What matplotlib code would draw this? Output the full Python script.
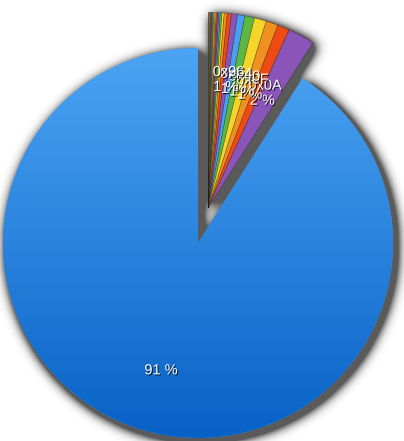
import numpy as np
import matplotlib
matplotlib.use("Agg")
import matplotlib.pyplot as plt
from matplotlib import patheffects as pe

# ---- data (clockwise from 12 o'clock) ----
small_values = [0.03, 0.04, 0.05, 0.05, 0.06, 0.07, 0.08, 0.08, 0.09, 0.10,
                0.10, 0.11, 0.12, 0.14, 0.18, 0.25, 0.35, 0.50, 0.60, 0.80,
                1.00, 1.00, 1.00, 2.20]
big_value = 91.0
small_names = [""] * 19 + ["0x96", "0xF4", "0x40", "0x0F", "0x0A"]
big_name = ""

values = small_values + [big_value]
names = small_names + [big_name]

palette = ["#4a9ff0", "#5cb840", "#f5d52a", "#f09020", "#f04a14", "#8a55b8"]
colors = [palette[i % len(palette)] for i in range(len(values))]

W, H = 404, 441
CX, CY, R = 198, 198, 195

plt.rcParams['font.family'] = ['Liberation Sans', 'DejaVu Sans']

fig = plt.figure(figsize=(W / 100, H / 100), dpi=100)
ax = fig.add_axes([0, 0, 1, 1])

wedges, _ = ax.pie(values, colors=colors, startangle=90, counterclock=False,
                   center=(CX, CY), radius=R,
                   wedgeprops=dict(edgecolor=(0, 0, 0, 0.3), linewidth=0.45))
big = wedges[-1]
big.set_linewidth(0)
small = wedges[:-1]

# explode the group of small slices together
t_lo = min(w.theta1 for w in small)
t_hi = max(w.theta2 for w in small)
mid = np.deg2rad((t_lo + t_hi) / 2)
ex = 0.19 * R
dx, dy = ex * np.cos(mid), ex * np.sin(mid)
for w in small:
    w.set_center((CX + dx, CY + dy))

# ---- drop shadow ----
X, Y = np.meshgrid(np.arange(W) + 0.5, np.arange(H) + 0.5)
pts = np.column_stack([X.ravel(), Y.ravel()])
off = np.array([3.5, -3.5])
mask = np.zeros(len(pts), dtype=float)
for w in wedges:
    mask = np.maximum(mask, w.get_path().contains_points(pts - off).astype(float))
mask = mask.reshape(H, W)
sig = 6.0
kx = np.arange(-22, 23)
k = np.exp(-kx ** 2 / (2 * sig ** 2))
k /= k.sum()
pad = 25
mp = np.pad(mask, pad)
mp = np.apply_along_axis(lambda m: np.convolve(m, k, mode='same'), 0, mp)
mp = np.apply_along_axis(lambda m: np.convolve(m, k, mode='same'), 1, mp)
blur = mp[pad:-pad, pad:-pad]
shadow = np.zeros((H, W, 4))
shadow[..., 0:3] = 0.1
shadow[..., 3] = np.clip(blur * 2.0, 0, 0.72)
ax.imshow(shadow, extent=(0, W, 0, H), origin='lower', zorder=0.5,
          interpolation='bilinear', aspect='auto')

# ---- vertical gradient on the big slice ----
top = np.array([76, 164, 244]) / 255
bot = np.array([8, 98, 198]) / 255
ys = np.linspace(0, H, 256)
t = np.clip((ys - (CY - R)) / (2 * R), 0, 1)[:, None]
grad = (bot + (top - bot) * t)[:, None, :]
im = ax.imshow(grad, extent=(0, W, 0, H), origin='lower', zorder=1.5,
               interpolation='bilinear', aspect='auto')
im.set_clip_path(big)

# ---- labels ----
total = sum(values)
eff = [pe.withSimplePatchShadow(offset=(0.8, -0.8), shadow_rgbFace='k', alpha=0.75)]
for i, (w, v, nm) in enumerate(zip(wedges, values, names)):
    pct = v / total * 100
    if pct < 0.75:
        continue
    a = np.deg2rad((w.theta1 + w.theta2) / 2)
    cx, cy = w.center
    if w is big:
        d = 0.68 * R
        ax.text(cx + d * np.cos(a), cy + d * np.sin(a), f"{pct:.0f} %",
                ha='center', va='center', color='white', fontsize=10.5,
                zorder=5, path_effects=eff)
    else:
        d = 0.71 * R
        x0, y0 = cx + d * np.cos(a) - 9, cy + d * np.sin(a)
        z = 4 + np.rad2deg(a) / 100
        ax.text(x0, y0, nm, ha='center', va='center', color='white',
                fontsize=10.5, zorder=z, path_effects=eff)
        ax.text(x0 - 3, y0 - 15, f"{pct:.0f} %", ha='center', va='center',
                color='white', fontsize=10.5, zorder=z, path_effects=eff)

ax.set_xlim(0, W)
ax.set_ylim(0, H)
ax.set_aspect('auto')
ax.axis('off')
fig.savefig("out.png", dpi=100)
